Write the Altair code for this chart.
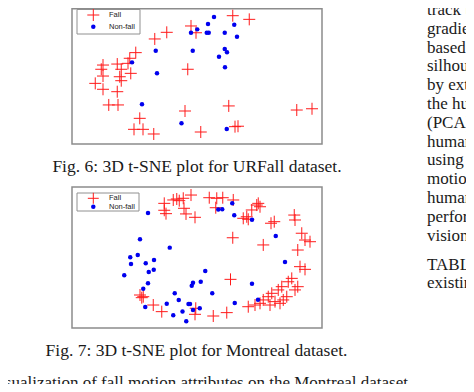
import altair as alt
import pandas as pd

# ---------------- data (t-SNE coordinates, normalised 0-100 units) ----------------
# Fig. 6 - URFall
urfall_fall_x = [64.3, 70.9, 47.6, 49.6, 37.9, 33.1, 25.5, 23.1, 22.4, 12.4, 18.1, 11.7, 19.7, 23.5,
                 12.4, 19.7, 19.1, 9.3, 12.4, 18.1, 14.7, 18.4, 46.3, 45.2, 62.7, 27.1, 24.8, 28.4,
                 32.7, 51.5, 65.2, 66.4, 89.9, 96.0]
urfall_fall_y = [91.0, 88.4, 83.7, 78.9, 79.2, 74.5, 64.8, 60.8, 57.2, 56.0, 56.7, 53.0, 53.0, 50.1,
                 48.2, 44.9, 47.7, 43.0, 38.8, 37.1, 27.7, 27.7, 53.0, 23.4, 27.0, 18.2, 10.4, 10.4,
                 7.1, 8.5, 12.3, 12.6, 24.1, 25.0]
urfall_non_x = [56.8, 54.4, 64.9, 50.1, 47.6, 53.9, 54.7, 61.1, 66.0, 48.3, 61.1, 62.0, 58.8, 61.2,
                33.5, 24.0, 34.0, 28.0, 43.8, 61.9]
urfall_non_y = [90.1, 85.1, 84.6, 81.3, 78.9, 78.9, 78.9, 78.9, 76.1, 66.2, 67.4, 65.0, 61.9, 54.4,
                66.2, 57.9, 50.1, 28.2, 14.7, 10.6]

# Fig. 7 - Montreal
montreal_fall_x = [36.9, 36.9, 37.6, 40.5, 41.9, 42.9, 44.5, 47.6, 44.8, 45.6, 49.2, 54.9, 57.9, 60.3,
                   57.5, 64.5, 68.5, 69.9, 70.5, 71.9, 73.9, 74.5, 75.2, 79.6, 80.9, 88.9, 89.2, 91.9,
                   93.2, 95.2, 90.3, 64.3, 76.5, 91.2, 93.2, 63.4, 87.9, 86.5, 90.3, 89.2, 83.9, 82.5,
                   85.9, 84.5, 79.9, 78.5, 81.2, 83.2, 76.5, 75.2, 73.2, 70.5, 79.2, 61.9, 56.5, 27.2,
                   28.5, 27.9, 32.5, 35.9, 49.5, 49.2]
montreal_fall_y = [88.4, 83.5, 81.1, 90.8, 91.5, 90.3, 92.0, 94.3, 84.9, 80.9, 78.5, 92.4, 92.0, 92.4,
                   85.3, 90.8, 77.8, 78.9, 77.1, 83.7, 87.2, 88.4, 86.0, 74.3, 75.4, 80.1, 76.6, 67.2,
                   62.4, 61.2, 55.3, 64.0, 58.9, 43.5, 41.6, 34.5, 35.2, 32.8, 29.3, 27.0, 29.3, 27.0,
                   22.2, 19.9, 24.6, 22.2, 18.7, 17.5, 19.9, 17.5, 16.3, 15.1, 16.3, 10.9, 8.5, 23.4,
                   22.2, 21.5, 16.3, 11.6, 14.0, 9.7]
montreal_non_x = [30.4, 27.2, 39.1, 23.3, 26.3, 23.6, 29.5, 32.8, 32.7, 30.7, 20.9, 30.4, 28.5, 53.3,
                  51.5, 48.4, 47.9, 56.1, 41.1, 42.7, 37.9, 46.6, 47.2, 29.3, 48.4, 51.1, 44.2, 40.5,
                  45.7, 65.1, 72.0, 74.4, 81.5, 85.2, 58.5, 60.1, 64.1, 64.9, 72.0]
montreal_non_y = [81.6, 62.9, 57.0, 50.1, 51.8, 45.4, 45.9, 48.2, 41.3, 39.7, 37.4, 31.7, 27.9, 40.4,
                  32.8, 32.1, 30.0, 24.6, 24.6, 19.9, 17.2, 17.0, 17.0, 14.9, 12.8, 14.0, 11.7, 9.0,
                  4.8, 17.7, 31.4, 20.1, 65.2, 46.8, 84.0, 84.2, 88.4, 79.9, 76.8]

series_labels = ["Fall", "Non-fall"]
captions = ["Fig. 6: 3D t-SNE plot for URFall dataset.",
            "Fig. 7: 3D t-SNE plot for Montreal dataset."]
column_lines = ["track t", "gradien", "based", "silhoue", "by extr", "the hu",
                "(PCA)", "human", "using", "motion", "human", "perform", "vision-"]
column_lines2 = ["TABLE", "existin"]
bottom_line = "visualization of fall motion attributes on the Montreal dataset"

# ---------------- styling / layout ----------------
M = 8  # page margin
def P(v):
    return v - M

RED = "#ff1a1a"
BLUE = "#0000ee"
FRAME = "#8c8c8c"
CROSS = "M-1,0L1,0M0,-1L0,1"
SERIF = "Liberation Serif"
SANS = "Liberation Sans"
FS = 17

# plot boxes (page px): x0, x1, y0, y1
box1 = (72, 322, 3, 144)
box2 = (72, 322, 187, 328)


def scatter(xs, ys, box, kind):
    df = pd.DataFrame({"x": xs, "y": ys})
    xs_ = alt.Scale(domain=[0, 100], range=[P(box[0]), P(box[1])], nice=False, zero=False)
    ys_ = alt.Scale(domain=[0, 100], range=[P(box[3]), P(box[2])], nice=False, zero=False)
    enc = dict(x=alt.X("x:Q", scale=xs_, axis=None), y=alt.Y("y:Q", scale=ys_, axis=None))
    if kind == "fall":
        m = alt.Chart(df).mark_point(shape=CROSS, filled=False, stroke=RED, strokeWidth=1,
                                     size=144, opacity=1)
    else:
        m = alt.Chart(df).mark_circle(color=BLUE, size=20, opacity=1)
    return m.encode(**enc)


def frame(box, top=None):
    y0 = box[2] if top is None else top
    return alt.Chart(pd.DataFrame({"a": [0]})).mark_rect(
        fill="white", stroke=FRAME, strokeWidth=1.5).encode(
        x=alt.value(P(box[0])), x2=alt.value(P(box[1])),
        y=alt.value(P(y0)), y2=alt.value(P(box[3])))


def legend(x0, x1, y0, y1, yf, yn, cross_size):
    one = pd.DataFrame({"a": [0]})
    box = alt.Chart(one).mark_rect(fill="white", stroke="#909090", strokeWidth=1).encode(
        x=alt.value(P(x0)), x2=alt.value(P(x1)), y=alt.value(P(y0)), y2=alt.value(P(y1)))
    cr = alt.Chart(one).mark_point(shape=CROSS, filled=False, stroke=RED, strokeWidth=1,
                                   size=cross_size, opacity=1).encode(
        x=alt.value(P(93.3)), y=alt.value(P(yf)))
    dot = alt.Chart(one).mark_circle(color=BLUE, size=20, opacity=1).encode(
        x=alt.value(P(93.3)), y=alt.value(P(yn)))
    t1 = alt.Chart(one).mark_text(font=SANS, fontSize=7.5, align="left", baseline="middle",
                                  color="#222").encode(
        x=alt.value(P(109)), y=alt.value(P(yf)), text=alt.value(series_labels[0]))
    t2 = alt.Chart(one).mark_text(font=SANS, fontSize=7.5, align="left", baseline="middle",
                                  color="#222").encode(
        x=alt.value(P(109)), y=alt.value(P(yn)), text=alt.value(series_labels[1]))
    return [box, cr, dot, t1, t2]


def text(x, y, value, align="left", size=FS):
    one = pd.DataFrame({"a": [0]})
    return alt.Chart(one).mark_text(font=SERIF, fontSize=size, align=align,
                                    baseline="alphabetic", color="#1a1a1a",
                                    lineHeight=18.8).encode(
        x=alt.value(P(x)), y=alt.value(P(y)), text=alt.value(value))


layers = [
    frame(box1, top=8.8),
    frame(box2),
    scatter(urfall_fall_x, urfall_fall_y, box1, "fall"),
    scatter(urfall_non_x, urfall_non_y, box1, "non"),
    scatter(montreal_fall_x, montreal_fall_y, box2, "fall"),
    scatter(montreal_non_x, montreal_non_y, box2, "non"),
]
layers += legend(77, 140, 9.5, 34, 15, 26.7, 144)
layers += legend(77, 139, 193, 211, 198.3, 206.7, 120)
layers += [
    text(197, 171.5, captions[0], align="center", size=17.5),
    text(196.5, 356, captions[1], align="center", size=17.5),
    text(427, 15, column_lines),
    text(427, 269.5, column_lines2),
    text(408, 388, bottom_line, align="right"),
]

chart = alt.layer(*layers).resolve_scale(x="independent", y="independent").properties(
    width=458, height=376, padding=0,
    autosize=alt.AutoSizeParams(type="none"),
    background="white",
).configure_view(stroke=None)

chart.save("out.html", embed_options={"renderer": "svg", "actions": False})
